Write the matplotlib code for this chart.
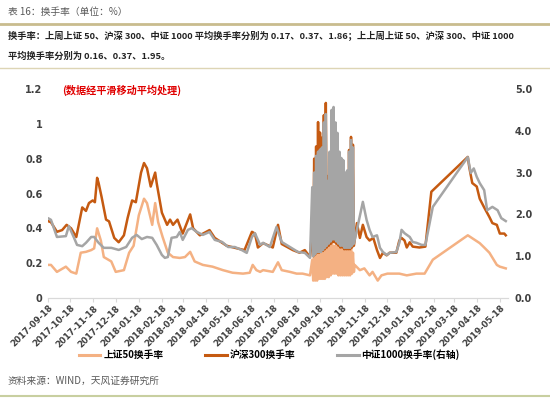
import matplotlib
matplotlib.use("Agg")
import matplotlib.pyplot as plt
import matplotlib.dates as mdates
from matplotlib.lines import Line2D
import pandas as pd

plt.rcParams['font.family'] = ['Noto Sans CJK SC', 'DejaVu Sans']

# ---------------- data ----------------
# 沪深300换手率 (left axis)
hs300_dates = ["2017-09-19","2017-09-22","2017-09-30","2017-10-07","2017-10-13","2017-10-19","2017-10-26",
               "2017-11-03","2017-11-08","2017-11-12","2017-11-17","2017-11-20","2017-11-23","2017-11-25",
               "2017-11-29","2017-12-05","2017-12-09","2017-12-16","2017-12-22","2017-12-29","2018-01-03",
               "2018-01-09","2018-01-14","2018-01-21","2018-01-25","2018-01-29","2018-02-03","2018-02-09",
               "2018-02-11","2018-02-18","2018-02-25","2018-03-01","2018-03-05","2018-03-11","2018-03-18",
               "2018-03-28","2018-04-01","2018-04-10","2018-04-23","2018-04-30","2018-05-16","2018-05-30",
               "2018-06-09","2018-06-19","2018-06-23","2018-06-27","2018-07-04","2018-07-17","2018-07-24",
               "2018-07-29","2018-08-13","2018-08-22","2018-08-29","2018-09-05"]
hs300_vals = [0.44,0.435,0.38,0.39,0.42,0.40,0.35,
              0.52,0.50,0.545,0.56,0.55,0.69,0.66,
              0.58,0.45,0.44,0.345,0.32,0.36,0.46,
              0.56,0.55,0.72,0.775,0.745,0.64,0.72,
              0.66,0.49,0.42,0.45,0.42,0.45,0.37,
              0.48,0.40,0.36,0.39,0.345,0.30,0.285,
              0.275,0.38,0.37,0.29,0.315,0.29,0.42,
              0.31,0.275,0.26,0.275,0.235]
hs300_post_dates = ["2018-11-07","2018-11-11","2018-11-15","2018-11-20","2018-11-24","2018-11-29","2018-12-04",
                    "2018-12-08","2018-12-12","2018-12-17","2018-12-21","2018-12-30","2019-01-03","2019-01-06",
                    "2019-01-10","2019-01-13","2019-01-17","2019-01-21","2019-01-30","2019-02-07","2019-02-15",
                    "2019-04-05","2019-04-07","2019-04-11","2019-04-17","2019-04-21","2019-04-27","2019-05-04",
                    "2019-05-08","2019-05-14","2019-05-18","2019-05-24","2019-05-26"]
hs300_post_vals = [0.43,0.345,0.42,0.35,0.33,0.345,0.275,
                   0.23,0.26,0.245,0.26,0.26,0.33,0.345,
                   0.33,0.29,0.32,0.295,0.29,0.295,0.61,
                   0.81,0.75,0.66,0.64,0.57,0.52,0.465,
                   0.43,0.42,0.37,0.37,0.36]

# 中证1000换手率 (right axis)
zz1000_dates = ["2017-09-19","2017-09-22","2017-09-30","2017-10-12","2017-10-16","2017-10-23","2017-10-27",
                "2017-11-03","2017-11-08","2017-11-15","2017-11-19","2017-11-25","2017-12-02","2017-12-12",
                "2017-12-22","2018-01-01","2018-01-09","2018-01-15","2018-01-22","2018-01-29","2018-02-05",
                "2018-02-11","2018-02-18","2018-02-22","2018-02-26","2018-03-03","2018-03-10","2018-03-14",
                "2018-03-18","2018-03-25","2018-03-30","2018-04-06","2018-04-14","2018-04-23","2018-04-30",
                "2018-05-10","2018-05-18","2018-05-27","2018-06-05","2018-06-12","2018-06-19","2018-06-23",
                "2018-06-30","2018-07-04","2018-07-13","2018-07-22","2018-07-29","2018-08-09","2018-08-20",
                "2018-08-29","2018-09-05"]
zz1000_vals = [1.90,1.87,1.46,1.48,1.72,1.44,1.27,
               1.24,1.32,1.46,1.46,1.32,1.20,1.20,
               1.15,1.22,1.44,1.51,1.41,1.46,1.44,
               1.27,1.03,0.96,0.98,1.44,1.46,1.58,
               1.39,1.63,1.67,1.58,1.51,1.58,1.39,
               1.34,1.22,1.22,1.15,1.08,1.46,1.55,
               1.27,1.32,1.22,1.70,1.34,1.22,1.10,
               1.08,0.96]
zz1000_post_dates = ["2018-11-07","2018-11-15","2018-11-20","2018-11-24","2018-11-28","2018-12-04","2018-12-08",
                     "2018-12-12","2018-12-17","2018-12-21","2018-12-30","2019-01-03","2019-01-06","2019-01-10",
                     "2019-01-17","2019-01-21","2019-01-26","2019-02-02","2019-02-07","2019-02-17","2019-04-05",
                     "2019-04-09","2019-04-13","2019-04-17","2019-04-21","2019-04-27","2019-05-01","2019-05-08",
                     "2019-05-15","2019-05-20","2019-05-26"]
zz1000_post_vals = [1.63,2.30,1.87,1.63,1.46,1.50,1.20,
                    1.10,1.03,1.08,1.10,1.32,1.63,1.55,
                    1.46,1.34,1.32,1.27,1.27,2.18,3.37,
                    2.99,3.10,2.90,2.75,2.58,2.10,2.18,
                    2.10,1.91,1.84]

# 上证50换手率 (left axis)
sz50_dates = ["2017-09-19","2017-09-22","2017-09-30","2017-10-12","2017-10-19","2017-10-26","2017-11-01",
              "2017-11-08","2017-11-15","2017-11-19","2017-11-23","2017-11-28","2017-12-02","2017-12-12",
              "2017-12-18","2017-12-29","2018-01-05","2018-01-11","2018-01-18","2018-01-25","2018-01-29",
              "2018-02-05","2018-02-09","2018-02-13","2018-02-19","2018-02-26","2018-03-05","2018-03-14",
              "2018-03-21","2018-03-28","2018-04-03","2018-04-14","2018-04-27","2018-05-11","2018-05-24",
              "2018-06-07","2018-06-16","2018-06-20","2018-06-25","2018-06-30","2018-07-04","2018-07-17",
              "2018-07-24","2018-07-29","2018-08-09","2018-08-18","2018-08-26","2018-09-05"]
sz50_vals = [0.19,0.19,0.15,0.18,0.15,0.14,0.26,
             0.265,0.275,0.285,0.40,0.33,0.235,0.21,
             0.15,0.16,0.26,0.30,0.475,0.57,0.545,
             0.42,0.545,0.435,0.35,0.26,0.235,0.23,
             0.235,0.265,0.21,0.19,0.18,0.16,0.145,
             0.14,0.145,0.19,0.16,0.15,0.16,0.15,
             0.205,0.16,0.15,0.14,0.14,0.13]
sz50_post_dates = ["2018-11-04","2018-11-11","2018-11-17","2018-11-24","2018-11-28","2018-12-05","2018-12-10",
                   "2018-12-18","2019-01-03","2019-01-13","2019-01-26","2019-02-06","2019-02-17","2019-04-05",
                   "2019-04-21","2019-04-27","2019-05-04","2019-05-14","2019-05-18","2019-05-26"]
sz50_post_vals = [0.19,0.16,0.17,0.13,0.15,0.10,0.13,
                  0.14,0.14,0.13,0.14,0.14,0.22,0.36,
                  0.315,0.29,0.26,0.19,0.18,0.17]

# Sep-Nov 2018: the series alternate between a high and a low reading
spike_start, spike_end, spike_n = "2018-09-08", "2018-11-03", 22
zz1000_spike_hi = [2.65,3.00,3.40,3.50,3.55,3.60,4.20,4.40,2.80,3.50,4.50,
                   4.57,4.20,3.95,3.50,3.35,3.30,3.00,3.05,3.50,3.78,3.60]
zz1000_spike_lo = [1.00,1.05,1.10,1.10,1.10,1.15,1.20,1.25,1.30,1.35,1.40,
                   1.40,1.35,1.30,1.25,1.25,1.20,1.20,1.20,1.20,1.25,1.30]
hs300_spike_hi = [0.40,0.80,0.87,1.01,0.95,0.92,1.05,1.12,0.70,0.82,1.05,
                  1.06,0.98,0.92,0.82,0.78,0.77,0.70,0.72,0.85,0.925,0.88]
hs300_spike_lo = [0.24,0.25,0.26,0.26,0.27,0.27,0.28,0.29,0.30,0.31,0.32,
                  0.32,0.31,0.30,0.29,0.29,0.28,0.28,0.28,0.28,0.29,0.30]
sz50_spike_hi = [0.22,0.25,0.26,0.26,0.27,0.27,0.28,0.30,0.33,0.37,0.34,
                 0.30,0.30,0.29,0.29,0.29,0.29,0.28,0.30,0.30,0.29,0.26]
sz50_spike_lo = [0.10,0.10,0.10,0.11,0.11,0.11,0.11,0.12,0.12,0.13,0.14,
                 0.14,0.14,0.13,0.13,0.13,0.13,0.13,0.13,0.13,0.14,0.15]

left_ticks = [0, 0.2, 0.4, 0.6, 0.8, 1.0, 1.2]
left_labels = ["0", "0.2", "0.4", "0.6", "0.8", "1", "1.2"]
right_ticks = [0, 1, 2, 3, 4, 5]
right_labels = ["0.0", "1.0", "2.0", "3.0", "4.0", "5.0"]
month_ticks = pd.date_range("2017-09-01", "2019-05-01", freq="MS") + pd.Timedelta(days=17)

legend_labels = ["上证50换手率", "沪深300换手率", "中证1000换手率(右轴)"]
title_text = "表 16：换手率（单位：%）"
para1 = "换手率：上周上证 50、沪深 300、中证 1000 平均换手率分别为 0.17、0.37、1.86；上上周上证 50、沪深 300、中证 1000"
para2 = "平均换手率分别为 0.16、0.37、1.95。"
note_text = "(数据经平滑移动平均处理)"
source_text = "资料来源：WIND，天风证券研究所"

# ---------------- build series ----------------
spike_dates = pd.date_range(spike_start, spike_end, periods=2 * spike_n)


def build(pre_d, pre_v, hi, lo, post_d, post_v):
    zig = [v for pair in zip(hi, lo) for v in pair]
    d = list(pd.to_datetime(pre_d)) + list(spike_dates) + list(pd.to_datetime(post_d))
    v = list(pre_v) + zig + list(post_v)
    return d, v


hs_d, hs_v = build(hs300_dates, hs300_vals, hs300_spike_hi, hs300_spike_lo, hs300_post_dates, hs300_post_vals)
zz_d, zz_v = build(zz1000_dates, zz1000_vals, zz1000_spike_hi, zz1000_spike_lo, zz1000_post_dates, zz1000_post_vals)
sz_d, sz_v = build(sz50_dates, sz50_vals, sz50_spike_hi, sz50_spike_lo, sz50_post_dates, sz50_post_vals)

# ---------------- plot ----------------
C_SZ = "#F4B183"
C_HS = "#C55A11"
C_ZZ = "#A5A5A5"

W, H = 550, 398
fig = plt.figure(figsize=(W / 100, H / 100), dpi=100)

ax = fig.add_axes([48 / W, 1 - 298 / H, 460 / W, 209 / H])
ax2 = ax.twinx()

ax.plot(sz_d, sz_v, color=C_SZ, lw=1.8, solid_joinstyle="round")
ax.plot(hs_d, hs_v, color=C_HS, lw=1.8, solid_joinstyle="round")
ax2.plot(zz_d, zz_v, color=C_ZZ, lw=1.8, solid_joinstyle="round")

ax.set_xlim(pd.Timestamp("2017-09-18"), pd.Timestamp("2019-05-29"))
ax.set_ylim(0, 1.2)
ax2.set_ylim(0, 5)

ax.set_yticks(left_ticks)
ax.set_yticklabels(left_labels)
ax2.set_yticks(right_ticks)
ax2.set_yticklabels(right_labels)

ax.set_xticks(month_ticks)
ax.xaxis.set_major_formatter(mdates.DateFormatter("%Y-%m-%d"))

for a in (ax, ax2):
    for s in ("top", "left", "right"):
        a.spines[s].set_visible(False)
    a.spines["bottom"].set_color("#D9D9D9")

ax.tick_params(axis="y", length=0, pad=4, labelsize=7, labelcolor="#404040")
ax2.tick_params(axis="y", length=0, pad=5, labelsize=7, labelcolor="#404040")
for lab in ax.get_yticklabels() + ax2.get_yticklabels():
    lab.set_fontweight("bold")
    lab.set_family(["DejaVu Sans"])

ax.tick_params(axis="x", length=3, color="#D9D9D9", pad=1, labelsize=6.2, labelcolor="#404040")
for lab in ax.get_xticklabels():
    lab.set_rotation(45)
    lab.set_ha("right")
    lab.set_rotation_mode("anchor")
    lab.set_fontweight("bold")
    lab.set_family(["DejaVu Sans"])

# note
fig.text(62 / W, 1 - 90 / H, note_text, color="#E00000", fontsize=7.3, fontweight="bold", va="center", ha="left")

# legend
handles = [Line2D([], [], color=c, lw=2.2) for c in (C_SZ, C_HS, C_ZZ)]
fig.legend(handles, legend_labels, loc="center", bbox_to_anchor=(0.49, 1 - 355 / H), ncol=3, frameon=False,
           handlelength=2.2, handletextpad=0.3, columnspacing=4.3,
           prop={"family": ["Noto Sans CJK SC", "DejaVu Sans"], "weight": "bold", "size": 7})

# header
fig.text(8 / W, 1 - 12 / H, title_text, fontsize=7.0, color="#595959", va="center", ha="left")
fig.add_artist(Line2D([0, 1], [1 - 23.5 / H, 1 - 23.5 / H], color="#C9BC8E", lw=2.0))
fig.text(8 / W, 1 - 36 / H, para1, fontsize=6.7, color="#222222", fontweight="bold", va="center", ha="left")
fig.text(8 / W, 1 - 56 / H, para2, fontsize=6.7, color="#222222", fontweight="bold", va="center", ha="left")
fig.add_artist(Line2D([0, 1], [1 - 68 / H, 1 - 68 / H], color="#DDD5B5", lw=1.0))

# footer
fig.text(8 / W, 1 - 381 / H, source_text, fontsize=7, color="#595959", va="center", ha="left")
fig.add_artist(Line2D([0, 1], [1 - 395.5 / H, 1 - 395.5 / H], color="#C8CFA0", lw=1.5))

fig.savefig("out.png", dpi=100)
